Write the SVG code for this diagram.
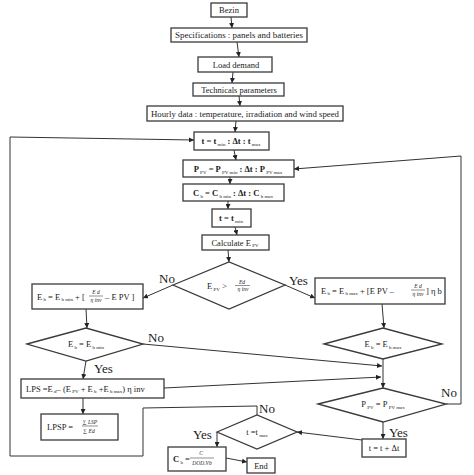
<svg xmlns="http://www.w3.org/2000/svg" width="474" height="475" viewBox="0 0 474 475">
<defs>
<style>
.b{fill:#fff;stroke:#3a3a3a;stroke-width:1.3}
.c{fill:none;stroke:#333;stroke-width:1}
text{font-family:"Liberation Serif","Times New Roman",serif;font-size:8.5px;fill:#1a1a1a}
.m{text-anchor:middle}
.bd{font-weight:bold}
.s{font-size:5px;font-weight:normal}
.f{font-size:5.5px;font-style:italic;text-anchor:middle}
.l{font-size:13px}
</style>
<marker id="a" viewBox="0 0 6 6" refX="6" refY="3" markerWidth="5" markerHeight="5" orient="auto">
<path d="M0,0 L6,3 L0,6 z" fill="#222"/>
</marker>
</defs>
<rect width="474" height="475" fill="#fff"/>

<g id="connectors" class="c" marker-end="url(#a)">
<path d="M231,17 L232,28"/>
<path d="M237,42 L239,57"/>
<path d="M233,72 L232,83"/>
<path d="M239,96 L240,106"/>
<path d="M236,121 L235,132"/>
<path d="M234,150 L236,160"/>
<path d="M230,177 L230,184"/>
<path d="M228,201 L228,209"/>
<path d="M235,227 L237,235"/>
<path d="M228,250 L229,262"/>
<path d="M173,285 L143,298"/>
<path d="M285,285 L315,298"/>
<path d="M86,309 L87,328"/>
<path d="M382,304 L384,328"/>
<path d="M86,361 L83,379"/>
<path d="M83,398 L83,414"/>
<path d="M143,344 L382,366"/>
<path d="M164,388 L381,377"/>
<path d="M383,359 L383,388"/>
<path d="M446,404 L461,404 L461,156 L294,169"/>
<path d="M383,422 L383,439"/>
<path d="M362,440 L297,432"/>
<path d="M257,415 L257,406 L143,408 L143,456 L10,456 L10,137 L194,140"/>
<path d="M217,432 L217,447"/>
<path d="M226,458 L247,462"/>
</g>

<g id="begin"><rect class="b" x="211" y="3" width="36" height="14"/><text class="m" x="229" y="13">Bezin</text></g>
<g id="specs"><rect class="b" x="171" y="28" width="136" height="14"/><text class="m" x="239" y="38" textLength="128" lengthAdjust="spacingAndGlyphs">Specifications : panels  and batteries</text></g>
<g id="load"><rect class="b" x="198" y="57" width="74" height="15"/><text class="m" x="236" y="67.5">Load demand</text></g>
<g id="tech"><rect class="b" x="193" y="83" width="91" height="13"/><text class="m" x="239" y="92.5">Technicals parameters</text></g>
<g id="hourly"><rect class="b" x="147" y="106" width="196" height="15"/><text class="m" x="245" y="116.5" textLength="188" lengthAdjust="spacingAndGlyphs">Hourly data : temperature, irradiation and wind speed</text></g>

<g id="tloop"><rect class="b" x="194" y="132" width="75" height="18"/><text class="m bd" x="231" y="144">t = t<tspan class="s" dy="1.5"> min</tspan><tspan dy="-1.5"> : Δt : t</tspan><tspan class="s" dy="1.5"> max</tspan></text></g>
<g id="ppvloop"><rect class="b" x="183" y="160" width="111" height="17"/><text class="m bd" x="238" y="172" font-size="9.5">P<tspan class="s" dy="1.5"> PV</tspan><tspan dy="-1.5"> = P</tspan><tspan class="s" dy="1.5"> PV min</tspan><tspan dy="-1.5"> : Δt : P</tspan><tspan class="s" dy="1.5"> PV max</tspan></text></g>
<g id="cbloop"><rect class="b" x="183" y="184" width="101" height="17"/><text class="m bd" x="233" y="196" font-size="9.5">C<tspan class="s" dy="1.5"> b</tspan><tspan dy="-1.5"> = C</tspan><tspan class="s" dy="1.5"> b min</tspan><tspan dy="-1.5"> : Δt : C</tspan><tspan class="s" dy="1.5"> b max</tspan></text></g>
<g id="tinit"><rect class="b" x="212" y="209" width="39" height="18"/><text class="m bd" x="231" y="221">t = t<tspan class="s" dy="1.5"> min</tspan></text></g>
<g id="calc"><rect class="b" x="202" y="235" width="67" height="15"/><text class="m" x="235" y="245.5">Calculate  E<tspan class="s" dy="1.5"> PV</tspan></text></g>

<g id="dec1"><polygon class="b" points="173,285 229,262 285,285 229,309"/>
<text x="207" y="289">E<tspan class="s" dy="1.5"> PV</tspan><tspan dy="-1.5"> &gt;</tspan></text>
<text class="f" x="242" y="284">Ed</text><line x1="235" y1="285.5" x2="250" y2="285.5" stroke="#222" stroke-width="0.5"/><text class="f" x="243" y="291">η inv</text></g>

<g id="ebleft"><rect class="b" x="32" y="284" width="111" height="25"/>
<text x="37" y="299.5">E<tspan class="s" dy="1.5"> b</tspan><tspan dy="-1.5">  = E</tspan><tspan class="s" dy="1.5"> b min</tspan><tspan dy="-1.5"> + [</tspan></text>
<text class="f" x="96" y="294">E d</text><line x1="89" y1="296" x2="103" y2="296" stroke="#222" stroke-width="0.5"/><text class="f" x="96" y="302">η inv</text>
<text x="105" y="299.5">– E PV  ]</text></g>

<g id="ebright"><rect class="b" x="315" y="278" width="130" height="26"/>
<text x="321" y="293.5">E<tspan class="s" dy="1.5"> b</tspan><tspan dy="-1.5">  = E</tspan><tspan class="s" dy="1.5"> b max</tspan><tspan dy="-1.5"> + [E PV –</tspan></text>
<text class="f" x="418" y="288">E d</text><line x1="411" y1="290" x2="425" y2="290" stroke="#222" stroke-width="0.5"/><text class="f" x="418" y="296">η inv</text>
<text x="426" y="293.5">] η b</text></g>

<g id="dec2"><polygon class="b" points="27,344 86,328 143,344 86,361"/><text class="m" x="86" y="347">E<tspan class="s" dy="1.5"> b</tspan><tspan dy="-1.5"> = E</tspan><tspan class="s" dy="1.5"> b min</tspan></text></g>
<g id="dec3"><polygon class="b" points="324,344 383,328 442,344 383,359"/><text class="m" x="383" y="347">E<tspan class="s" dy="1.5"> b</tspan><tspan dy="-1.5"> = E</tspan><tspan class="s" dy="1.5"> b max</tspan></text></g>

<g id="lps"><rect class="b" x="21" y="379" width="143" height="19"/><text x="26" y="391.5">LPS  =E<tspan class="s" dy="1.5"> d</tspan><tspan dy="-1.5">– (E</tspan><tspan class="s" dy="1.5"> PV</tspan><tspan dy="-1.5">  + E</tspan><tspan class="s" dy="1.5"> b</tspan><tspan dy="-1.5"> +E</tspan><tspan class="s" dy="1.5"> b max</tspan><tspan dy="-1.5">) η inv</tspan></text></g>
<g id="lpsp"><rect class="b" x="41" y="414" width="77" height="26"/><text x="47" y="430">LPSP  =</text>
<text class="f" x="90" y="424">∑ LSP</text><line x1="82" y1="426" x2="98" y2="426" stroke="#222" stroke-width="0.5"/><text class="f" x="89" y="433">∑ Ed</text></g>

<g id="dec4"><polygon class="b" points="318,404 383,388 446,404 383,422"/><text class="m" x="383" y="407">P<tspan class="s" dy="1.5"> PV</tspan><tspan dy="-1.5">  = P</tspan><tspan class="s" dy="1.5"> PV max</tspan></text></g>
<g id="tinc"><rect class="b" x="362" y="439" width="44" height="18"/><text class="m" x="384" y="451">t = t + Δt</text></g>
<g id="dec5"><polygon class="b" points="217,432 257,415 297,432 257,449"/><text class="m" x="257" y="435">t =t<tspan class="s" dy="1.5"> max</tspan></text></g>
<g id="cb"><rect class="b" x="168" y="447" width="58" height="24"/><text class="bd" x="173" y="462" font-size="9.5">C<tspan class="s" dy="1.5"> b</tspan><tspan dy="-1.5"> =</tspan></text>
<text class="f" x="201" y="455">C</text><line x1="190" y1="458" x2="214" y2="458" stroke="#222" stroke-width="0.5"/><text class="f" x="202" y="465">DOD.Vb</text></g>
<g id="end"><rect class="b" x="247" y="458" width="28" height="15"/><text class="m" x="261" y="468.5">End</text></g>

<g id="labels">
<text class="l" x="159" y="283">No</text>
<text class="l" x="289" y="285">Yes</text>
<text class="l" x="148" y="342">No</text>
<text class="l" x="94" y="373">Yes</text>
<text class="l" x="441" y="397">No</text>
<text class="l" x="389" y="437">Yes</text>
<text class="l" x="259" y="413">No</text>
<text class="l" x="193" y="439">Yes</text>
</g>
</svg>
